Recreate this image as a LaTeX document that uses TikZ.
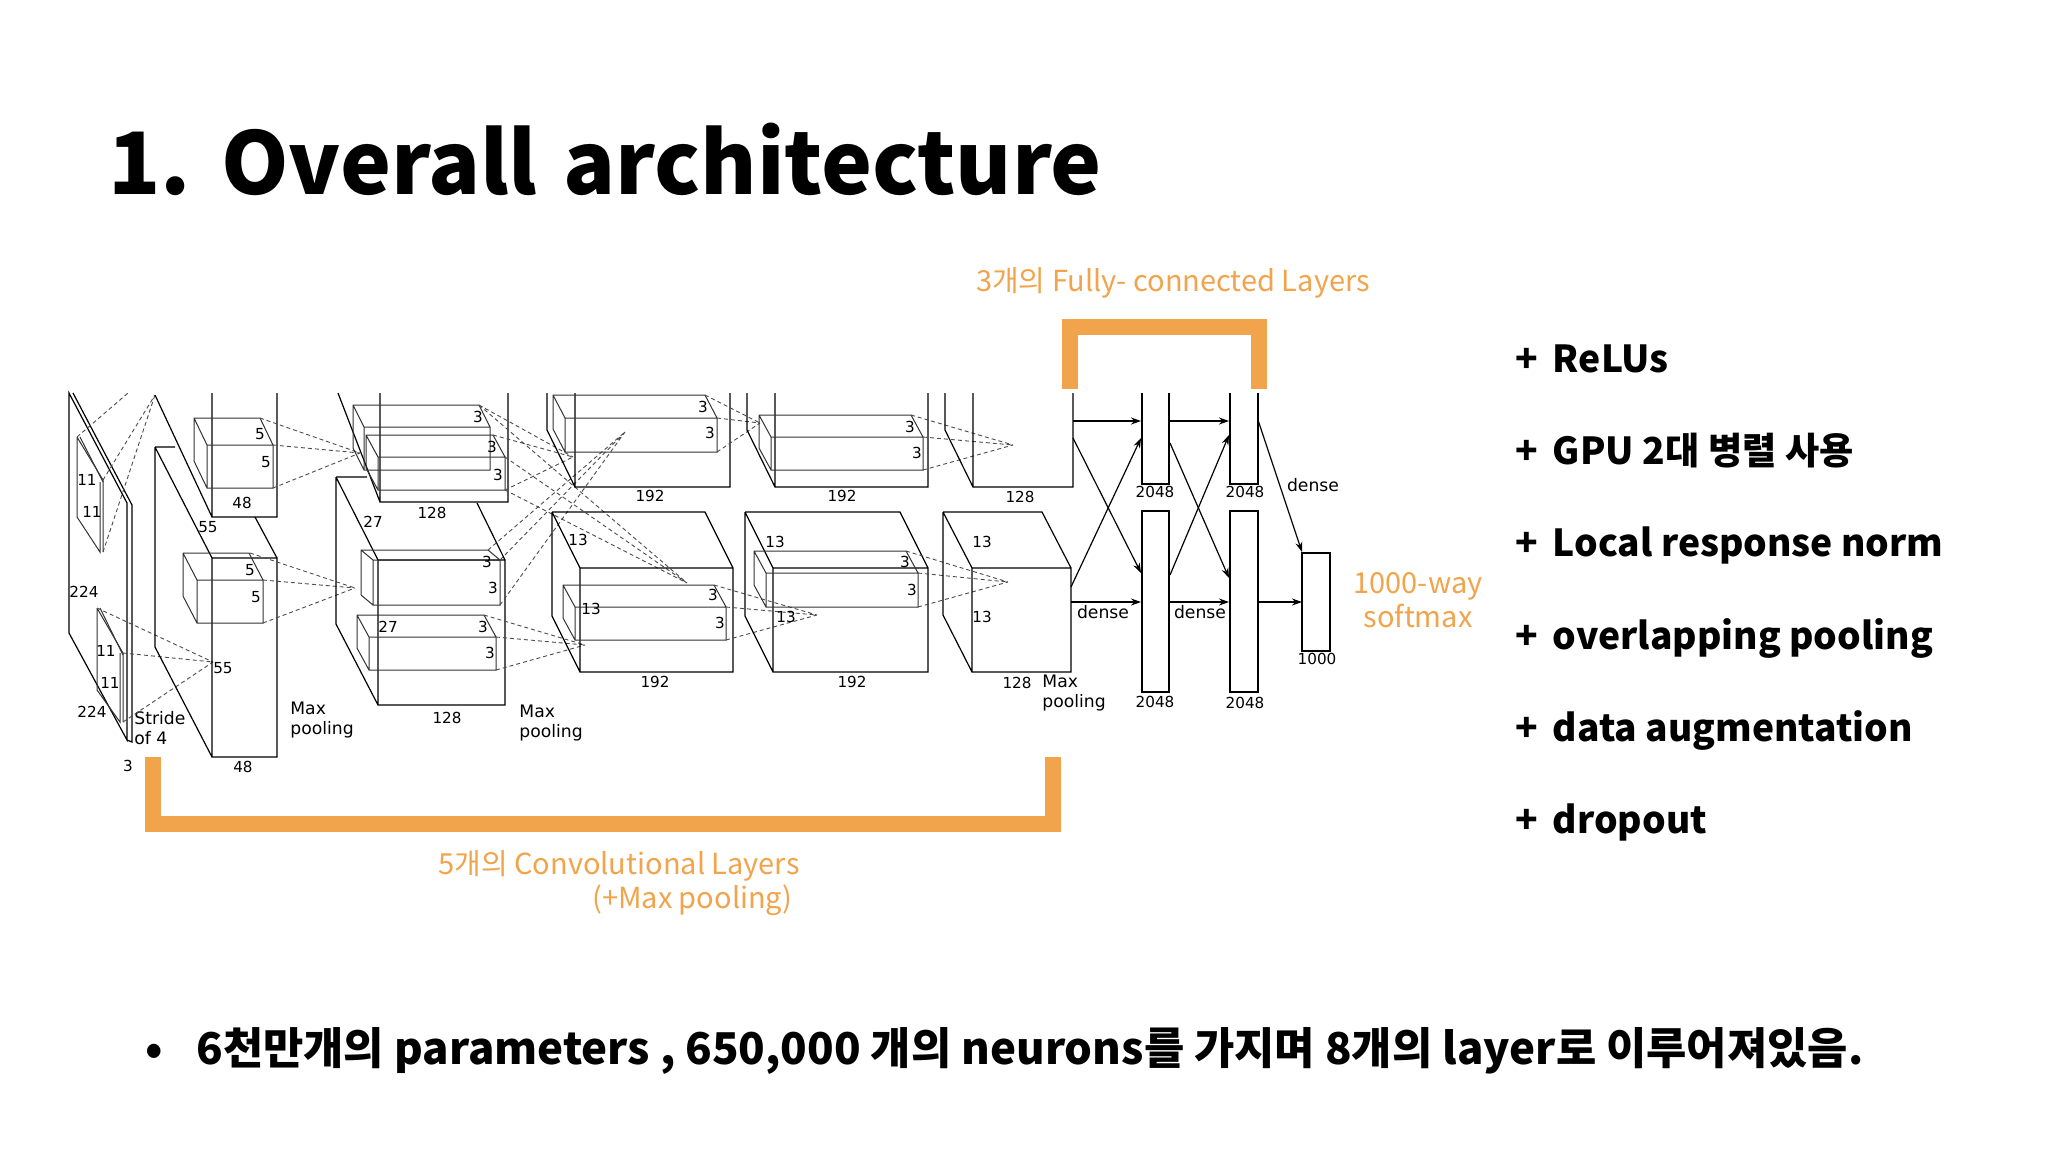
\documentclass[tikz,border=0pt]{standalone}
\usepackage{fontspec}
\setmainfont{Noto Sans CJK KR}
\newfontfamily\djv{DejaVu Sans}
\usetikzlibrary{arrows.meta,calc}
\definecolor{org}{RGB}{242,164,76}
\tikzset{
 lay/.style={line width=0.6pt,black},
 ker/.style={line width=0.5pt,black!80},
 dsh/.style={line width=0.45pt,black!70,dash pattern=on 2pt off 1.5pt},
 arr/.style={line width=0.6pt,-{Stealth[length=5pt,width=3.5pt]}},
 num/.style={font=\djv\fontsize{7.6}{8}\selectfont,inner sep=0pt},
 lbl/.style={font=\djv\fontsize{8.6}{10}\selectfont,inner sep=0pt,align=left},
 brk/.style={org,line width=8pt},
 olab/.style={org,font=\fontsize{14.5}{17}\selectfont,inner sep=0pt},
 item/.style={font=\bfseries\fontsize{18.6}{22}\selectfont,anchor=base west,inner sep=0pt},
}
\newcommand\cub[6]{\draw[ker] (#1,#2) rectangle (#3,#4) (#1,#4) -- ++(#5,#6) -- ++(0,{#2-#4}) -- ++({#3-#1},0) -- (#3,#2) (#1,#2) -- ++(#5,#6);}
\begin{document}
\begin{tikzpicture}[x=0.5pt,y=-0.5pt]
\useasboundingbox[fill=white] (0,0) rectangle (2048,1152);
% title
\node[font=\bfseries\fontsize{43}{50}\selectfont,anchor=base west,inner sep=0pt] (title) at (108,194) {1.\hspace{0.35em}Overall\hspace{0.3em}architecture};
% right list
\node[item] (i1) at (1515,372) {+\hspace{0.4em}ReLUs};
\node[item] (i2) at (1515,464) {+\hspace{0.4em}GPU 2대 병렬 사용};
\node[item] (i3) at (1515,556) {+\hspace{0.4em}Local response norm};
\node[item] (i4) at (1515,649) {+\hspace{0.4em}overlapping pooling};
\node[item] (i5) at (1515,741) {+\hspace{0.4em}data augmentation};
\node[item] (i6) at (1515,833) {+\hspace{0.4em}dropout};
% bottom bullet
\node[item,font=\bfseries\fontsize{21.9}{26}\selectfont] (bul) at (145,1064) {•};
\node[item,font=\bfseries\fontsize{21.9}{26}\selectfont] (bot) at (196,1064) {6천만개의 parameters , 650,000 개의 neurons를 가지며 8개의 layer로 이루어져있음.};
% orange
\node[olab,anchor=base] (fcl) at (1173,291) {3개의 Fully- connected Layers};
\node[olab,anchor=base east] (cvl) at (800,874) {5개의 Convolutional Layers};
\node[olab,anchor=base east] (cvl2) at (793,908) {(+Max pooling)};
\node[olab,align=center] (soft) at (1418,600) {1000-way\\softmax};
\draw[brk] (1070,389) -- (1070,327) -- (1259,327) -- (1259,389);
\draw[brk] (153,757) -- (153,824) -- (1053,824) -- (1053,757);

% ---------- input ----------
\draw[lay] (69,393) -- (127,503) -- (127,740) -- (69,633) -- cycle;
\draw[lay] (73,393) -- (132,505) -- (132,742) -- (127,740);
\draw[ker] (77,437) -- (103,480) -- (103,552) (77,437) -- (77,517) -- (100,552) -- (100,482);
\draw[ker] (80,437) -- (103,482);
\draw[ker] (97,608) -- (123,653) -- (123,722) (97,608) -- (97,690) -- (120,722) -- (120,653);
\draw[ker] (100,608) -- (123,655);
\node[num] (n11a) at (87,480) {11};
\node[num] (n11b) at (92,512) {11};
\node[num] (n224a) at (84,592) {224};
\node[num] (n11c) at (106,651) {11};
\node[num] (n11d) at (110,683) {11};
\node[num] (n224b) at (92,712) {224};
\node[num] (n3) at (128,766) {3};
\node[lbl,anchor=north west] (str) at (134,711) {Stride\\of 4};
\coordinate (p0) at (155,395);
\coordinate (p1) at (213,662);
\draw[dsh] (77,437) -- (128,393) (103,480) -- (p0) (103,552) -- (p0) (97,608) -- (p1) (123,653) -- (p1) (123,722) -- (p1);

% ---------- conv1 ----------
\draw[lay] (212,393) -- (212,517) -- (277,517) -- (277,393) (155,395) -- (212,517);
\draw[lay] (212,558) rectangle (277,757) (155,447) -- (155,647) -- (212,757) (155,447) -- (212,558) (155,447) -- (175,447) (255,517) -- (277,558);
\cub{207}{445}{273}{488}{-13}{-27}
\cub{197}{580}{263}{623}{-14}{-27}
\node[num] (k5a) at (260,434) {5};
\node[num] (k5b) at (266,462) {5};
\node[num] (k5c) at (250,570) {5};
\node[num] (k5d) at (256,597) {5};
\node[num] (c48a) at (242,503) {48};
\node[num] (c55a) at (208,527) {55};
\node[num] (c55b) at (223,668) {55};
\node[num] (c48b) at (243,767) {48};
\node[lbl,anchor=north west] (mp1) at (290,702) {Max\\pooling};
\coordinate (p2) at (360,453);
\coordinate (p3) at (355,588);
\draw[dsh] (260,418) -- (p2) (273,445) -- (p2) (273,488) -- (p2) (250,553) -- (p3) (263,580) -- (p3) (263,623) -- (p3);

% ---------- conv2 ----------
\draw[lay] (380,393) -- (380,502) -- (508,502) -- (508,393) (338,393) -- (380,502);
\draw[lay] (378,560) rectangle (505,705) (336,477) -- (336,624) -- (378,705) (336,477) -- (378,560) (336,477) -- (367,477) (477,503) -- (505,560);
\cub{364}{427}{490}{470}{-11}{-22}
\cub{378}{457}{505}{490}{-12}{-22}
\cub{373}{560}{500}{605}{-12}{-10}
\cub{369}{637}{496}{670}{-12}{-22}
\node[num] (q1) at (478,417) {3};
\node[num] (q2) at (492,447) {3};
\node[num] (q3) at (498,475) {3};
\node[num] (q4) at (487,562) {3};
\node[num] (q5) at (493,588) {3};
\node[num] (q6) at (483,627) {3};
\node[num] (q7) at (490,653) {3};
\node[num] (c27a) at (373,522) {27};
\node[num] (c27b) at (388,627) {27};
\node[num] (c128a) at (432,513) {128};
\node[num] (c128b) at (447,718) {128};
\node[lbl,anchor=north west] (mp2) at (519,705) {Max\\pooling};
\coordinate (p4) at (573,457);
\coordinate (p5) at (687,583);
\coordinate (p6) at (625,432);
\coordinate (p7) at (585,645);
\draw[dsh] (479,405) -- (p4) (493,435) -- (p4) (505,490) -- (p4) (479,405) -- (p5) (505,457) -- (p5) (505,490) -- (p5);
\draw[dsh] (488,550) -- (p6) (500,560) -- (p6) (500,605) -- (p6) (484,615) -- (p7) (496,637) -- (p7) (496,670) -- (p7);

% ---------- conv3 ----------
\draw[lay] (547,393) -- (547,430) -- (575,487) (575,393) -- (575,487) -- (730,487) -- (730,393);
\cub{565}{418}{717}{452}{-12}{-23}
\node[num] (r1) at (703,407) {3};
\node[num] (r2) at (710,433) {3};
\node[num] (c192a) at (650,496) {192};
\draw[lay] (580,568) rectangle (733,672) (552,512) -- (552,616) -- (580,672) (552,512) -- (580,568) (552,512) -- (705,512) -- (733,568);
\cub{575}{607}{726}{640}{-12}{-22}
\node[num] (c13a) at (578,540) {13};
\node[num] (c13b) at (591,609) {13};
\node[num] (r3) at (713,595) {3};
\node[num] (r4) at (720,623) {3};
\node[num] (c192b) at (655,682) {192};
\coordinate (p8) at (760,423);
\coordinate (p9) at (817,615);
\draw[dsh] (705,395) -- (p8) (717,418) -- (p8) (717,452) -- (p8) (714,585) -- (p9) (726,607) -- (p9) (726,640) -- (p9);

% ---------- conv4 ----------
\draw[lay] (747,393) -- (747,430) -- (775,487) (775,393) -- (775,487) -- (928,487) -- (928,393);
\cub{771}{437}{923}{470}{-12}{-22}
\node[num] (s1) at (910,427) {3};
\node[num] (s2) at (917,453) {3};
\node[num] (c192c) at (842,496) {192};
\draw[lay] (773,568) rectangle (928,672) (745,512) -- (745,616) -- (773,672) (745,512) -- (773,568) (745,512) -- (900,512) -- (928,568);
\cub{766}{573}{918}{607}{-12}{-22}
\node[num] (c13c) at (775,542) {13};
\node[num] (c13d) at (786,617) {13};
\node[num] (s3) at (905,562) {3};
\node[num] (s4) at (912,590) {3};
\node[num] (c192d) at (852,682) {192};
\coordinate (p10) at (1013,445);
\coordinate (p11) at (1008,582);
\draw[dsh] (911,415) -- (p10) (923,437) -- (p10) (923,470) -- (p10) (906,551) -- (p11) (918,573) -- (p11) (918,607) -- (p11);

% ---------- conv5 ----------
\draw[lay] (945,393) -- (945,430) -- (973,487) (973,393) -- (973,487) -- (1073,487) -- (1073,393);
\node[num] (c128c) at (1020,497) {128};
\draw[lay] (972,568) rectangle (1071,672) (943,512) -- (943,615) -- (972,672) (943,512) -- (972,568) (943,512) -- (1042,512) -- (1071,568);
\node[num] (c13e) at (982,542) {13};
\node[num] (c13f) at (982,617) {13};
\node[num] (c128d) at (1017,683) {128};
\node[lbl,anchor=north west] (mp3) at (1042,675) {Max\\pooling};

% ---------- FC ----------
\draw[lay] (1142,393) -- (1142,484) -- (1169,484) -- (1169,393);
\draw[lay] (1142,511) rectangle (1169,692);
\draw[lay] (1230,393) -- (1230,484) -- (1258,484) -- (1258,393);
\draw[lay] (1230,511) rectangle (1258,692);
\draw[lay] (1302,553) rectangle (1330,651);
\node[num] (f1) at (1155,492) {2048};
\node[num] (f2) at (1245,492) {2048};
\node[num] (f3) at (1155,702) {2048};
\node[num] (f4) at (1245,703) {2048};
\node[num] (f5) at (1317,659) {1000};
\draw[arr] (1073,421) -- (1141,421);
\draw[arr] (1073,438) -- (1141,573);
\draw[arr] (1071,587) -- (1141,438);
\draw[arr] (1071,602) -- (1141,602);
\draw[arr] (1170,421) -- (1229,421);
\draw[arr] (1170,443) -- (1229,578);
\draw[arr] (1170,575) -- (1229,435);
\draw[arr] (1170,602) -- (1229,602);
\draw[arr] (1258,420) -- (1302,552);
\draw[arr] (1258,602) -- (1302,602);
\node[lbl] (d1) at (1103,612) {dense};
\node[lbl] (d2) at (1200,612) {dense};
\node[lbl] (d3) at (1313,485) {dense};
\end{tikzpicture}
\end{document}
